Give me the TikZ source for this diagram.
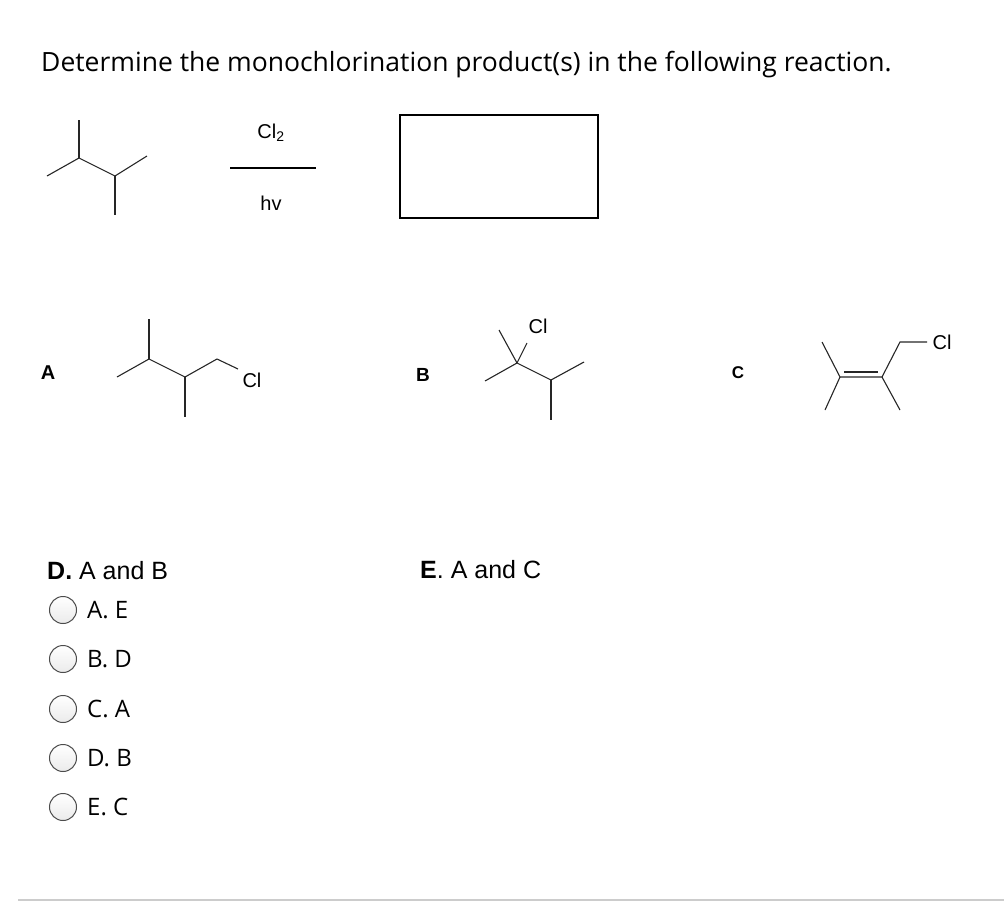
\documentclass[tikz,border=0pt]{standalone}
\usepackage{fontspec}
\setmainfont{Open Sans}
\newfontfamily\arial{Liberation Sans}
\begin{document}
\begin{tikzpicture}[x=1pt,y=-1pt,
  bond/.style={line width=1.1pt,black!85},
  lbl/.style={font=\arial\fontsize{20}{20}\selectfont,inner sep=0pt},
  opt/.style={font=\fontsize{24}{24}\selectfont,anchor=west,inner sep=0pt},
  radio/.style={circle,draw=black!70,line width=1pt,minimum size=27pt,inner sep=0pt,top color=white,bottom color=black!8}]
\useasboundingbox (0,0) rectangle (1004,911);
\node[anchor=west,inner sep=0pt,font=\fontsize{26.5}{26.5}\selectfont] (title) at (41,65) {Determine the monochlorination product(s) in the following reaction.};
% reactant
\coordinate (r1) at (79,158); \coordinate (r1t) at (79,120); \coordinate (rl) at (47,176);
\coordinate (r2) at (115,176); \coordinate (rr) at (147,156); \coordinate (rb) at (115,215);
\draw[bond] (rl)--(r1)--(r2)--(rr); \draw[bond] (r1)--(r1t); \draw[bond] (r2)--(rb);
\coordinate (as) at (230,168); \coordinate (ae) at (316,168);
\draw[line width=2.2pt] (as)--(ae);
\node[lbl] (cl2) at (271,133) {Cl\textsubscript{2}};
\node[lbl] (hv) at (271,203) {hv};
\node[draw,line width=1.3pt,minimum width=198pt,minimum height=103pt,inner sep=0pt] (box) at (499,166.5) {};
% A
\node[font=\arial\bfseries\fontsize{20}{20}\selectfont] (A) at (48,373) {A};
\coordinate (a0) at (117,377); \coordinate (a1) at (149,359); \coordinate (a1t) at (149,319);
\coordinate (a2) at (185,377); \coordinate (a2b) at (185,417); \coordinate (a3) at (217,359);
\coordinate (a4) at (238,369);
\draw[bond] (a0)--(a1)--(a2)--(a3)--(a4); \draw[bond] (a1)--(a1t); \draw[bond] (a2)--(a2b);
\node[lbl] (clA) at (252,380) {Cl};
% B
\node[font=\arial\bfseries\fontsize{19}{19}\selectfont] (B) at (423,375) {B};
\coordinate (b0) at (485,381); \coordinate (b1) at (517,363); \coordinate (b1m) at (499,330);
\coordinate (b1c) at (527,343); \coordinate (b2) at (551,380); \coordinate (b2r) at (584,362);
\coordinate (b2b) at (551,420);
\draw[bond] (b0)--(b1)--(b2)--(b2r); \draw[bond] (b1)--(b1m); \draw[bond] (b1)--(b1c); \draw[bond] (b2)--(b2b);
\node[lbl] (clB) at (538,326) {Cl};
% C
\node[font=\arial\bfseries\fontsize{17}{17}\selectfont] (C) at (738,373) {C};
\coordinate (c1) at (840,377); \coordinate (c1u) at (822,342); \coordinate (c1d) at (825,410);
\coordinate (c2) at (882,377); \coordinate (c2u) at (900,342); \coordinate (c2d) at (900,410);
\coordinate (c3) at (927,342);
\draw[bond] (c1u)--(c1)--(c2)--(c2u)--(c3); \draw[bond] (c1)--(c1d); \draw[bond] (c2)--(c2d);
\draw[bond] ([xshift=4pt,yshift=5pt]c1)--([xshift=-4pt,yshift=5pt]c2);
\node[lbl] (clC) at (942,342) {Cl};
% answers
\node[anchor=west,inner sep=0pt,font=\arial\fontsize{25}{25}\selectfont] (dl) at (47,571) {\textbf{D.} A and B};
\node[anchor=west,inner sep=0pt,font=\arial\fontsize{25}{25}\selectfont] (el) at (420,570) {\textbf{E}. A and C};
\foreach \y/\t [count=\i] in {610/A. E,659/B. D,709/C. A,758/D. B,807/E. C}{
  \node[radio] (r\i) at (63,\y) {};
  \node[opt] (o\i) at (87,\y) {\t};
}
\coordinate (l1) at (18,900); \coordinate (l2) at (1004,900);
\draw[black!20,line width=1.5pt] (l1)--(l2);
\end{tikzpicture}
\end{document}
